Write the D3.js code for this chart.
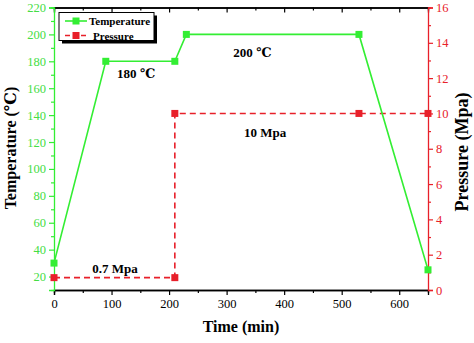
<!DOCTYPE html>
<html><head><meta charset="utf-8">
<script src="https://cdn.jsdelivr.net/npm/d3@7"></script>
<style>
body{margin:0;background:#fff}svg{display:block}
svg text{font-family:"Liberation Serif","Times New Roman","DejaVu Serif",serif !important;}
</style>
</head><body><svg id="c" width="474" height="343"></svg>
<script>
const tempTime = [0, 90, 210, 230, 530, 650];
const tempValues = [30, 180, 180, 200, 200, 25];
const presTime = [0, 210, 210, 530, 650];
const presValues = [0.7, 0.7, 10, 10, 10];
const xTicks = [0, 100, 200, 300, 400, 500, 600];
const tempTicks = [20, 40, 60, 80, 100, 120, 140, 160, 180, 200, 220];
const presTicks = [0, 2, 4, 6, 8, 10, 12, 14, 16];
const labels = [
  {t: 143, v: 180, dy: 17, text: "180 ℃", s: "temp"},
  {t: 345, v: 200, dy: 23, text: "200 ℃", s: "temp"},
  {t: 367, v: 10, dy: 24, text: "10 Mpa", s: "pres"},
  {t: 106, v: 0.7, dy: -5, text: "0.7 Mpa", s: "pres"}
];
const GREEN = "#33ee33", GREEN_T = "#44dd44", RED = "#e8202a";

const svg = d3.select("#c");
const L = 54, R = 428, T = 7.5, B = 290;
const x = d3.scaleLinear().domain([0, 650]).range([L, R]);
const yT = d3.scaleLinear().domain([10, 220]).range([B, T]);
const yP = d3.scaleLinear().domain([0, 16]).range([B, T]);

// axes
const gBottom = svg.append("g").attr("transform", `translate(0,${B})`)
  .call(d3.axisBottom(x).tickValues(xTicks).tickSize(5).tickPadding(4));
svg.append("g").attr("transform", `translate(0,${B})`)
  .call(d3.axisBottom(x).tickValues(d3.range(50, 650, 100)).tickSize(3).tickFormat(""));
svg.append("g").attr("transform", `translate(0,${T})`)
  .call(d3.axisBottom(x).tickValues(xTicks).tickSize(5).tickFormat(""));
svg.append("g").attr("transform", `translate(0,${T})`)
  .call(d3.axisBottom(x).tickValues(d3.range(50, 650, 100)).tickSize(3).tickFormat(""));
svg.selectAll("g").selectAll(".domain").attr("stroke", "#000").attr("stroke-width", 1.3);

const gLeft = svg.append("g").attr("transform", `translate(${L},0)`)
  .call(d3.axisLeft(yT).tickValues(tempTicks).tickSize(5).tickPadding(3));
svg.append("g").attr("class", "lm").attr("transform", `translate(${L},0)`)
  .call(d3.axisLeft(yT).tickValues(d3.range(10, 220, 20)).tickSize(3).tickFormat(""));
gLeft.selectAll("line").attr("stroke", GREEN);
svg.selectAll(".lm line").attr("stroke", GREEN);
gLeft.select(".domain").attr("stroke", GREEN).attr("stroke-width", 1.3);
svg.select(".lm .domain").attr("stroke", GREEN);
gLeft.selectAll("text").attr("fill", GREEN_T);

const gRight = svg.append("g").attr("transform", `translate(${R},0)`)
  .call(d3.axisRight(yP).tickValues(presTicks).tickSize(5).tickPadding(3));
svg.append("g").attr("class", "rm").attr("transform", `translate(${R},0)`)
  .call(d3.axisRight(yP).tickValues(d3.range(1, 16, 2)).tickSize(3).tickFormat(""));
gRight.selectAll("line").attr("stroke", RED);
svg.selectAll(".rm line").attr("stroke", RED);
gRight.select(".domain").attr("stroke", RED).attr("stroke-width", 1.3);
svg.select(".rm .domain").attr("stroke", RED);
gRight.selectAll("text").attr("fill", RED);

svg.selectAll(".tick text").attr("font-size", 12.5);
gBottom.selectAll("text").attr("fill", "#000");
svg.selectAll(".tick line").attr("stroke-width", 1.2);

// series
const tempData = tempTime.map((t, i) => [t, tempValues[i]]);
const presData = presTime.map((t, i) => [t, presValues[i]]);
svg.append("path").datum(presData)
  .attr("d", d3.line().x(d => x(d[0])).y(d => yP(d[1])))
  .attr("fill", "none").attr("stroke", RED).attr("stroke-width", 1.6).attr("stroke-dasharray", "6,4");
svg.append("path").datum(tempData)
  .attr("d", d3.line().x(d => x(d[0])).y(d => yT(d[1])))
  .attr("fill", "none").attr("stroke", GREEN).attr("stroke-width", 1.6);
svg.selectAll(".pm").data(presData).enter().append("rect")
  .attr("x", d => x(d[0]) - 3.5).attr("y", d => yP(d[1]) - 3.5).attr("width", 7).attr("height", 7).attr("fill", RED);
svg.selectAll(".tm").data(tempData).enter().append("rect")
  .attr("x", d => x(d[0]) - 3.5).attr("y", d => yT(d[1]) - 3.5).attr("width", 7).attr("height", 7).attr("fill", GREEN);

// annotations
labels.forEach(l => {
  const y = l.s === "temp" ? yT(l.v) : yP(l.v);
  svg.append("text").attr("x", x(l.t)).attr("y", y + l.dy)
    .attr("text-anchor", "middle").attr("font-weight", "bold").attr("font-size", 13).text(l.text);
});

// legend
const lg = svg.append("g").attr("transform", "translate(59,12.5)");
lg.append("rect").attr("x", 3).attr("y", 3).attr("width", 95).attr("height", 28).attr("fill", "#000");
lg.append("rect").attr("x", 0).attr("y", 0).attr("width", 95).attr("height", 28).attr("fill", "#fff").attr("stroke", "#000").attr("stroke-width", 1);
[["Temperature", GREEN, null], ["Pressure", RED, "5,3"]].forEach((d, i) => {
  const yy = 8.5 + i * 14.5;
  lg.append("line").attr("x1", 6).attr("x2", 28).attr("y1", yy).attr("y2", yy)
    .attr("stroke", d[1]).attr("stroke-width", 1.6).attr("stroke-dasharray", d[2]);
  lg.append("rect").attr("x", 13.5).attr("y", yy - 3.5).attr("width", 7).attr("height", 7).attr("fill", d[1]);
  lg.append("text").attr("x", i === 0 ? 30 : 34).attr("y", yy + 4)
    .attr("font-size", 11).attr("font-weight", "bold").text(d[0]);
});

// axis titles
svg.append("text").attr("x", (L + R) / 2).attr("y", 332).attr("text-anchor", "middle")
  .attr("font-size", 16).attr("font-weight", "bold").text("Time (min)");
svg.append("text").attr("transform", `translate(16,148) rotate(-90)`).attr("text-anchor", "middle")
  .attr("font-size", 16).attr("font-weight", "bold").text("Temperature (℃)");
svg.append("text").attr("transform", `translate(468,152) rotate(-90)`).attr("text-anchor", "middle")
  .attr("font-size", 18).attr("font-weight", "bold").text("Pressure (Mpa)");
</script></body></html>
